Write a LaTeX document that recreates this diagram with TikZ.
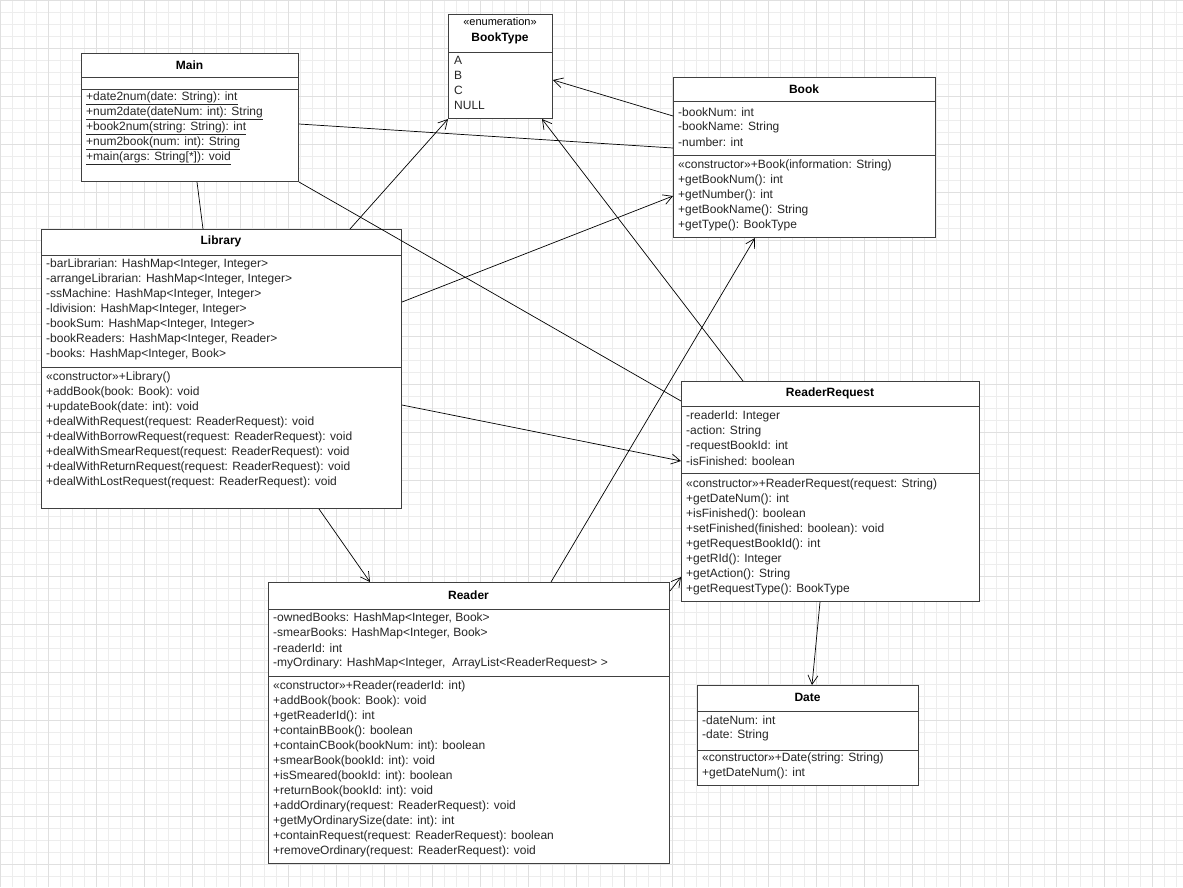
\documentclass[tikz,border=0pt]{standalone}
\usepackage{fontspec}
\setmainfont{Liberation Sans}
\usetikzlibrary{arrows.meta}
\begin{document}
\begin{tikzpicture}[x=1pt,y=1pt,
  box/.style={draw=black!75,line width=1pt,fill=white,rectangle,anchor=north west,inner sep=0},
  sep/.style={draw=black!75,line width=0.8pt},
  txt/.style={anchor=west,inner sep=0,font=\fontsize{12}{14}\selectfont,text=black!85},
  ttl/.style={inner sep=0,font=\fontsize{12}{14}\selectfont\bfseries},
  assoc/.style={draw=black,line width=0.7pt},
  nav/.style={assoc,-{Straight Barb[length=9pt,width=10pt]}}]
\newcommand\umlines[3]{\foreach \t [count=\i from 0] in {#3} {\node[txt] at (#1,{-(#2+15*\i)}) {\t};}}
% background grid
\fill[white] (0,0) rectangle (1183,-887);
\useasboundingbox (0,0) rectangle (1183,-887);
\foreach \k in {0,12,...,1183} \draw[black!7,line width=0.5pt] (\k,0) -- (\k,-887);
\foreach \k in {0,12,...,887} \draw[black!7,line width=0.5pt] (0,-\k) -- (1183,-\k);
\foreach \k in {0,48,...,1183} \draw[black!12,line width=0.5pt] (\k,0) -- (\k,-887);
\foreach \k in {0,48,...,887} \draw[black!12,line width=0.5pt] (0,-\k) -- (1183,-\k);

% BookType
\node[box,minimum width=104,minimum height=104] (bt) at (448,-14) {};
\draw[sep] (448,-52) -- (552,-52);
\node[inner sep=0,font=\fontsize{11}{13}\selectfont] (btst) at (500,-22) {«enumeration»};
\node[ttl] (btt) at (500,-38) {BookType};
\umlines{454}{60}{A,B,C,NULL}

% Main
\node[box,minimum width=217,minimum height=128] (main) at (81,-53) {};
\draw[sep] (81,-77) -- (298,-77);
\draw[sep] (81,-89) -- (298,-89);
\node[ttl] (maint) at (189.5,-65) {Main};
\umlines{86}{98}{{\underline{+date2num(date: String): int}},{\underline{+num2date(dateNum: int): String}},{\underline{+book2num(string: String): int}},{\underline{+num2book(num: int): String}},{\underline{+main(args: String[*]): void}}}

% Book
\node[box,minimum width=262,minimum height=160] (book) at (673,-77) {};
\draw[sep] (673,-101) -- (935,-101);
\draw[sep] (673,-155) -- (935,-155);
\node[ttl] (bookt) at (804,-89) {Book};
\umlines{678}{112}{-bookNum: int,-bookName: String,-number: int}
\umlines{678}{165}{«constructor»+Book(information: String),+getBookNum(): int,+getNumber(): int,+getBookName(): String,+getType(): BookType}

% Library
\node[box,minimum width=360,minimum height=279] (lib) at (41,-229) {};
\draw[sep] (41,-255) -- (401,-255);
\draw[sep] (41,-367) -- (401,-367);
\node[ttl] (libt) at (221,-241) {Library};
\umlines{46}{264}{{-barLibrarian: HashMap<Integer, Integer>},{-arrangeLibrarian: HashMap<Integer, Integer>},{-ssMachine: HashMap<Integer, Integer>},{-ldivision: HashMap<Integer, Integer>},{-bookSum: HashMap<Integer, Integer>},{-bookReaders: HashMap<Integer, Reader>},{-books: HashMap<Integer, Book>}}
\umlines{46}{377}{«constructor»+Library(),{+addBook(book: Book): void},{+updateBook(date: int): void},{+dealWithRequest(request: ReaderRequest): void},{+dealWithBorrowRequest(request: ReaderRequest): void},{+dealWithSmearRequest(request: ReaderRequest): void},{+dealWithReturnRequest(request: ReaderRequest): void},{+dealWithLostRequest(request: ReaderRequest): void}}

% ReaderRequest
\node[box,minimum width=298,minimum height=220] (rr) at (681,-381) {};
\draw[sep] (681,-406) -- (979,-406);
\draw[sep] (681,-473) -- (979,-473);
\node[ttl] (rrt) at (830,-393) {ReaderRequest};
\umlines{686}{416}{-readerId: Integer,-action: String,-requestBookId: int,-isFinished: boolean}
\umlines{686}{484}{{«constructor»+ReaderRequest(request: String)},{+getDateNum(): int},{+isFinished(): boolean},{+setFinished(finished: boolean): void},{+getRequestBookId(): int},{+getRId(): Integer},{+getAction(): String},{+getRequestType(): BookType}}

% Reader
\node[box,minimum width=401,minimum height=281] (rd) at (268,-582) {};
\draw[sep] (268,-609) -- (669,-609);
\draw[sep] (268,-676) -- (669,-676);
\node[ttl] (rdt) at (468.5,-595) {Reader};
\umlines{273}{618}{{-ownedBooks: HashMap<Integer, Book>},{-smearBooks: HashMap<Integer, Book>},{-readerId: int},{-myOrdinary: HashMap<Integer,~ ArrayList<ReaderRequest> >}}
\umlines{273}{686}{{«constructor»+Reader(readerId: int)},{+addBook(book: Book): void},{+getReaderId(): int},{+containBBook(): boolean},{+containCBook(bookNum: int): boolean},{+smearBook(bookId: int): void},{+isSmeared(bookId: int): boolean},{+returnBook(bookId: int): void},{+addOrdinary(request: ReaderRequest): void},{+getMyOrdinarySize(date: int): int},{+containRequest(request: ReaderRequest): boolean},{+removeOrdinary(request: ReaderRequest): void}}

% Date
\node[box,minimum width=221,minimum height=100] (dt) at (697,-685) {};
\draw[sep] (697,-711) -- (918,-711);
\draw[sep] (697,-750) -- (918,-750);
\node[ttl] (dtt) at (807.5,-697) {Date};
\umlines{702}{720}{-dateNum: int,-date: String}
\umlines{702}{758}{{«constructor»+Date(string: String)},{+getDateNum(): int}}

% connectors
\draw[assoc] ([yshift=-71]main.north east) -- ([yshift=-71]book.north west);
\draw[assoc] ([xshift=116]main.south west) -- ([xshift=162]lib.north west);
\draw[assoc] (main.south east) -- ([yshift=-20]rr.north west);
\draw[nav] ([xshift=309]lib.north west) -- (bt.south west);
\draw[nav] ([yshift=-73]lib.north east) -- ([yshift=-119]book.north west);
\draw[nav] ([yshift=-176]lib.north east) -- ([yshift=-80]rr.north west);
\draw[nav] ([xshift=278]lib.south west) -- ([xshift=102]rd.north west);
\draw[nav] ([yshift=-39]book.north west) -- ([yshift=-66]bt.north east);
\draw[nav] ([xshift=62]rr.north west) -- ([xshift=-11]bt.south east);
\draw[nav] ([xshift=283]rd.north west) -- ([xshift=82]book.south west);
\draw[nav] ([yshift=-9]rd.north east) -- ([yshift=-196]rr.north west);
\draw[nav] ([xshift=139]rr.south west) -- ([xshift=115]dt.north west);
\end{tikzpicture}
\end{document}
